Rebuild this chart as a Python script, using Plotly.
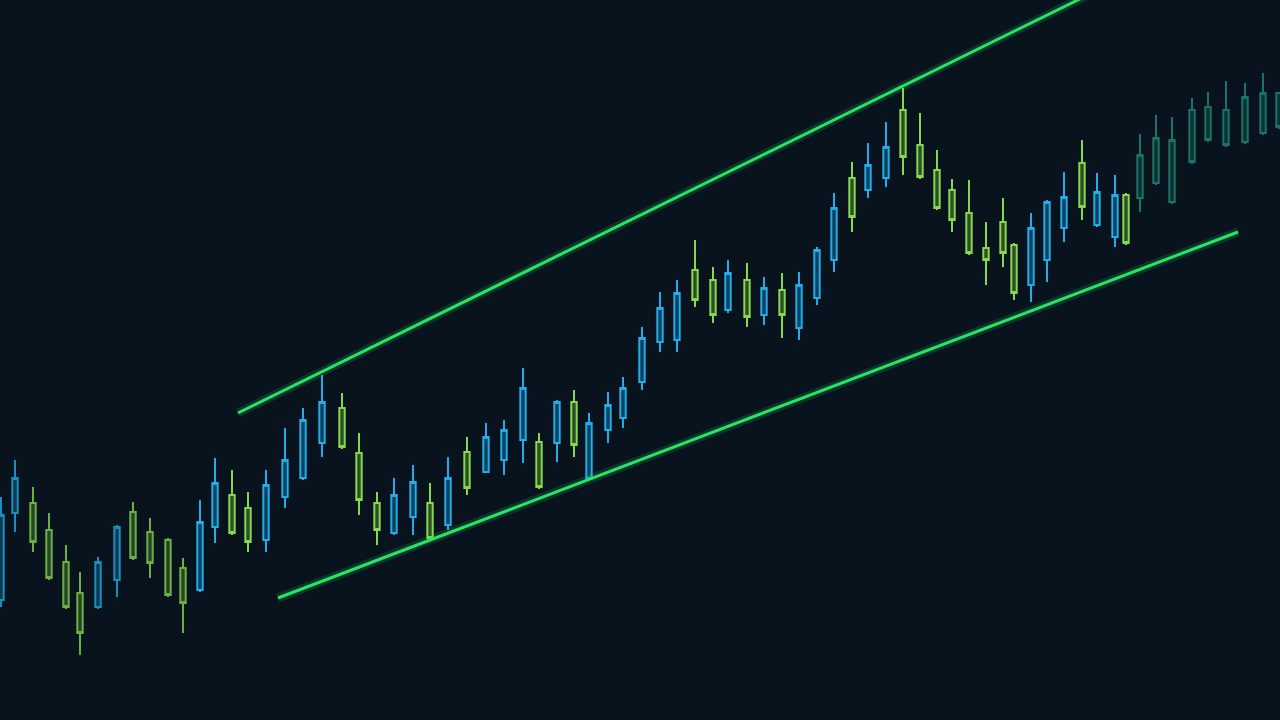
import plotly.graph_objects as go

# Time positions of each session (in chart x units)
time = [1, 15, 33, 49, 66, 80, 98, 117, 133, 150, 168, 183, 200, 215, 232, 248, 266, 285, 303, 322,
        342, 359, 377, 394, 413, 430, 448, 467, 486, 504, 523, 539, 557, 574, 589, 608, 623, 642, 660, 677,
        695, 713, 728, 747, 764, 782, 799, 817, 834, 852, 868, 886, 903, 920, 937, 952, 969, 986, 1003, 1014,
        1031, 1047, 1064, 1082, 1097, 1115, 1126, 1140, 1156, 1172, 1192, 1208, 1226, 1245, 1263, 1279]

high = [223, 260, 233, 207, 175, 148, 163, 195, 218, 202, 182, 162, 220, 262, 250, 228, 250, 292, 312, 345,
        327, 287, 228, 242, 255, 237, 263, 283, 297, 300, 352, 287, 320, 330, 307, 328, 343, 393, 428, 440,
        480, 453, 460, 457, 443, 447, 448, 473, 527, 558, 577, 598, 632, 607, 570, 541, 540, 498, 522, 477,
        507, 520, 548, 580, 547, 545, 527, 586, 605, 603, 622, 628, 639, 637, 647, 627]

body_top = [205, 242, 217, 190, 158, 127, 158, 193, 208, 188, 180, 152, 198, 237, 225, 212, 235, 260, 300, 318,
            312, 267, 217, 225, 238, 217, 242, 268, 283, 290, 332, 278, 318, 318, 297, 315, 332, 382, 412, 427,
            450, 440, 447, 440, 432, 430, 435, 470, 512, 542, 555, 573, 610, 575, 550, 530, 507, 472, 498, 475,
            492, 518, 523, 557, 528, 525, 525, 565, 582, 580, 610, 613, 610, 623, 627, 627]

body_bottom = [120, 207, 178, 142, 113, 87, 113, 140, 162, 157, 125, 117, 130, 193, 187, 178, 180, 223, 242, 277,
               273, 220, 190, 187, 203, 182, 195, 232, 248, 260, 280, 233, 277, 275, 242, 290, 302, 338, 378, 380,
               420, 405, 410, 403, 405, 405, 392, 422, 460, 503, 530, 542, 563, 543, 512, 500, 467, 460, 467, 427,
               435, 460, 492, 513, 495, 483, 477, 522, 537, 518, 558, 580, 575, 578, 587, 593]

low = [113, 188, 168, 140, 111, 65, 111, 123, 160, 142, 123, 87, 128, 177, 185, 168, 168, 212, 240, 263,
       271, 205, 175, 185, 185, 180, 190, 225, 247, 245, 257, 231, 258, 263, 240, 277, 292, 330, 368, 368,
       413, 397, 407, 393, 395, 382, 380, 415, 448, 488, 522, 533, 545, 541, 510, 488, 465, 435, 453, 420,
       418, 438, 478, 500, 493, 473, 475, 508, 535, 516, 556, 578, 573, 576, 585, 591]

direction = ['up', 'up', 'down', 'down', 'down', 'down', 'up', 'up', 'down', 'down', 'down', 'down',
             'up', 'up', 'down', 'down', 'up', 'up', 'up', 'up', 'down', 'down', 'down', 'up', 'up', 'down',
             'up', 'down', 'up', 'up', 'up', 'down', 'up', 'down', 'up', 'up', 'up', 'up', 'up', 'up',
             'down', 'down', 'up', 'down', 'up', 'down', 'up', 'up', 'up', 'down', 'up', 'up', 'down', 'down',
             'down', 'down', 'down', 'down', 'down', 'down', 'up', 'up', 'up', 'down', 'up', 'up', 'down',
             'up', 'up', 'up', 'down', 'down', 'down', 'up', 'up', 'down']

# Channel trend lines (end points)
upper_t = [238, 1090]
upper_p = [307, 726]
lower_t = [278, 1238]
lower_p = [122, 488]

opens = [b if d == 'up' else t for t, b, d in zip(body_top, body_bottom, direction)]
closes = [t if d == 'up' else b for t, b, d in zip(body_top, body_bottom, direction)]

BG = '#08131d'
BLUE = '#22acea'
GREEN = '#86d84c'
TEAL = '#22a890'


def fill(c, alpha=0.3):
    h = c.lstrip('#')
    r, g, bb = int(h[0:2], 16), int(h[2:4], 16), int(h[4:6], 16)
    return f'rgba({r},{g},{bb},{alpha})'


fig = go.Figure()

# channel lines with soft glow
for tt, pp in [(upper_t, upper_p), (lower_t, lower_p)]:
    fig.add_trace(go.Scatter(x=tt, y=pp, mode='lines', line=dict(color='rgba(40,230,100,0.16)', width=9),
                             hoverinfo='skip', showlegend=False))
    fig.add_trace(go.Scatter(x=tt, y=pp, mode='lines', line=dict(color='#27e467', width=3),
                             hoverinfo='skip', showlegend=False))

groups = [(0, 12, BLUE, GREEN, 0.8), (12, 67, BLUE, GREEN, 1.0), (67, len(time), TEAL, TEAL, 0.65)]
for a, b, cu, cd, op in groups:
    fig.add_trace(go.Candlestick(
        x=time[a:b], open=opens[a:b], high=high[a:b], low=low[a:b], close=closes[a:b],
        increasing=dict(line=dict(color=cu, width=2), fillcolor=fill(cu)),
        decreasing=dict(line=dict(color=cd, width=2), fillcolor=fill(cd)),
        opacity=op, showlegend=False, hoverinfo='skip'))

fig.update_layout(
    width=1280, height=720,
    paper_bgcolor=BG, plot_bgcolor=BG,
    margin=dict(l=0, r=0, t=0, b=0),
    showlegend=False,
    xaxis=dict(range=[0, 1280], visible=False, showgrid=False, zeroline=False, rangeslider=dict(visible=False)),
    yaxis=dict(range=[0, 720], visible=False, showgrid=False, zeroline=False),
)

page_js = ("document.body.style.margin='0';document.body.style.overflow='hidden';"
           "document.body.style.background='" + BG + "';")
fig.write_html('out.html', post_script=page_js, config={'displayModeBar': False})
